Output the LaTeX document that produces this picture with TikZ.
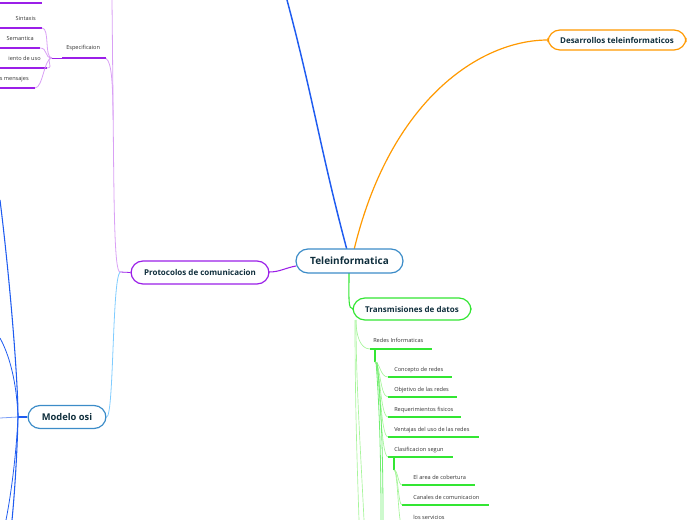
\documentclass[tikz,border=0pt]{standalone}
\usepackage{fontspec}
\setmainfont{Open Sans}
\definecolor{vb}{HTML}{9B1FE8}
\definecolor{vl}{HTML}{D9A0F5}
\definecolor{bb}{HTML}{1F5CF0}
\definecolor{gb}{HTML}{33E633}
\definecolor{gl}{HTML}{A6F59A}
\definecolor{sb}{HTML}{3C8CC8}
\definecolor{tx}{HTML}{0F2E3C}
\begin{document}
\begin{tikzpicture}[x=0.75pt,y=-0.75pt,
  main/.style={draw=#1,line width=0.9pt,rounded corners=9pt,fill=white,text=tx,font=\bfseries\fontsize{6}{7}\selectfont,inner sep=0pt},
  lab/.style={font=\fontsize{4.2}{5}\selectfont,text=black!80,anchor=base west,inner sep=0pt},
  ul/.style={draw=#1,line width=0.9pt}]
\useasboundingbox (0,0) rectangle (696,520);
\coordinate (topb) at (287,0);
\draw[bb,line width=1.1pt] (347,250) to[out=105,in=-75] (topb);
\draw[orange!80!yellow,line width=0.9pt] (354,250) .. controls (390,100) and (480,40) .. (548,40);
\draw[vb,line width=0.8pt] (296,266) to[out=190,in=0] (269,272);
\draw[gb,line width=0.8pt] (349,273) .. controls (349,300) and (348,309) .. (353,309);
\node[main=sb,minimum width=107pt*0.75,minimum height=24pt*0.75,font=\bfseries\fontsize{7.5}{9}\selectfont] (tele) at (349.5,261) {Teleinformatica};
\node[main=orange!80!yellow,minimum width=138pt*0.75,minimum height=20pt*0.75] (des) at (617,40) {Desarrollos teleinformaticos};
\node[main=vb,minimum width=138pt*0.75,minimum height=23pt*0.75] (pro) at (200,272.5) {Protocolos de comunicacion};
\node[main=gb,minimum width=118pt*0.75,minimum height=22pt*0.75] (tra) at (412,309) {Transmisiones de datos};
\node[main=sb,minimum width=78pt*0.75,minimum height=23pt*0.75,font=\bfseries\fontsize{7}{8}\selectfont] (osi) at (67,417) {Modelo osi};
\coordinate (pj) at (120,272);
\draw[vb,line width=0.6pt] (pro.west) -- (pj);
\coordinate (ptop) at (112,0);
\draw[vl,line width=0.6pt] (pj) .. controls (114,272) and (114,200) .. (113,100) -- (ptop);
\draw[vl,line width=0.6pt] (113,120) .. controls (113,70) and (110,58) .. (104,58);
\draw[ul=vb] (62,58) -- (106,58);
\node[lab] at (66,50) {Especificaion};
\draw[blue!40!cyan!50,line width=0.6pt] (pj) .. controls (112,280) and (114,417) .. (osi.east);
\coordinate (ej) at (52,58);
\draw[ul=vb] (0,3) -- (42,3);
\foreach \y/\xe/\t in {28/42/Sintaxis,48/40/Semantica,68/47/{iento de uso},88/35/{os mensajes}}{
  \draw[ul=vb] (0,\y) -- (\xe,\y);
  \node[lab,anchor=base east] at (\xe-6,\y-7) {\t};
  \draw[vl,line width=0.6pt] (\xe,\y) .. controls (\xe+8,\y) and (44,58) .. (ej);
}
\draw[vb,line width=0.7pt] (ej) -- (62,58);
\coordinate (oj) at (18,417);
\draw[bb,line width=0.8pt] (osi.west) -- (oj);
\draw[bb!60,line width=0.6pt] (0,418) -- (oj);
\draw[bb,line width=0.8pt] (0,200) .. controls (10,280) and (18,380) .. (oj) .. controls (17,460) and (14,500) .. (12,520);
\draw[bb,line width=0.6pt] (0,338) .. controls (12,360) and (17,390) .. (oj) .. controls (16,460) and (10,500) .. (6,520);
\draw[gl,line width=0.5pt] (356,320) .. controls (356,335) and (360,349) .. (370,349);
\draw[gl,line width=0.5pt] (356,320) .. controls (356,380) and (360,440) .. (364,520);
\draw[gl,line width=0.5pt] (355,320) .. controls (355,400) and (357,460) .. (359,520);
\draw[ul=gb] (370,349) -- (432,349);
\node[lab] at (373,343) {Redes Informaticas};
\draw[gb,line width=1.1pt] (375,349) -- (375,362);
\foreach \y/\xe/\t in {377/452/Concepto de redes,397/457/Objetivo de las redes,417/461/Requerimientos fisicos,437/479/Ventajas del uso de las redes,457/453/Clasificacion segun}{
  \draw[ul=gb] (388,\y) -- (\xe,\y);
  \node[lab] at (394,\y-6) {\t};
  \draw[gl,line width=0.5pt] (375,362) .. controls (380,362) and (380,\y) .. (388,\y);
}
\draw[gb!70,line width=0.6pt] (377,362) .. controls (381,400) and (383,450) .. (383,520);
\draw[gb!70,line width=0.6pt] (376,362) .. controls (379,400) and (381,450) .. (381,520);
\draw[gb,line width=1.1pt] (394,457) -- (394,470);
\foreach \y/\xe/\t in {485/475/El area de cobertura,505/489/Canales de comunicacion,525/450/los servicios}{
  \draw[ul=gb] (402,\y) -- (\xe,\y);
  \node[lab] at (413,\y-6) {\t};
  \draw[gl,line width=0.5pt] (394,470) .. controls (398,470) and (398,\y) .. (402,\y);
}
\end{tikzpicture}
\end{document}
